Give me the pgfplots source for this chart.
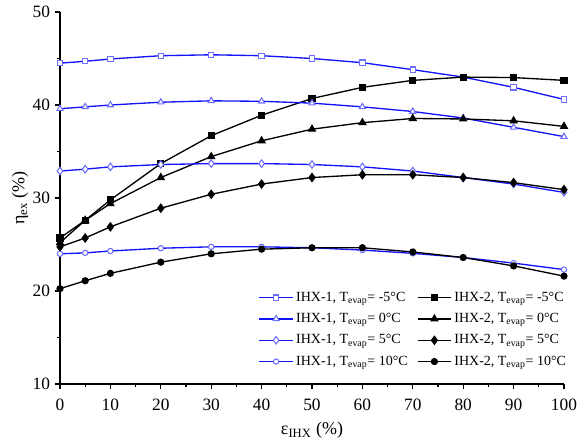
\documentclass[border=0pt]{standalone}
\usepackage{pgfplots}
\pgfplotsset{compat=1.18}
\usepackage{fontspec}
\setmainfont{Liberation Serif}
\definecolor{lblue}{RGB}{20,20,250}
\definecolor{mblue}{RGB}{110,110,255}
\begin{document}
\begin{tikzpicture}
\begin{axis}[
  scale only axis,
  width=378pt, height=279pt,
  at={(0pt,0pt)}, anchor=south west,
  xmin=0, xmax=100, ymin=10, ymax=50,
  axis x line=bottom, axis y line=left,
  axis line style={-, line width=1.1pt},
  xtick={0,10,...,100}, ytick={10,20,...,50},
  minor x tick num=1, minor y tick num=1,
  tick align=outside,
  major tick length=4pt, minor tick length=2.5pt,
  tick style={line width=0.9pt, black},
  /pgf/number format/assume math mode=true,
  ticklabel style={font=\fontsize{13}{15}\selectfont},
  xticklabel style={yshift=-4pt},
  every axis y label/.style={at={(axis description cs:0,0.5)}, xshift=-30pt, rotate=90, anchor=center},
  every axis x label/.style={at={(axis description cs:0.5,0)}, yshift=-35pt, anchor=center},
  ylabel={\fontsize{13.5}{15}\selectfont η\textsubscript{ex} (\%)},
  xlabel={\fontsize{13.5}{15}\selectfont ε\textsubscript{IHX} (\%)},
  legend columns=2,
  legend style={draw=none, fill=none, at={(axis cs:38.6,11.2)}, anchor=south west,
    font=\fontsize{10.5}{12}\selectfont, row sep=3.5pt,
    /tikz/every even column/.append style={column sep=5pt}},
  legend cell align=left,
  legend image code/.code={\draw[mark repeat=2,mark phase=2] plot coordinates {(0pt,0pt)(12.5pt,0pt)(25pt,0pt)};},
  ihxone/.style={color=lblue, line width=1pt, mark options={draw=mblue, fill=white, line width=0.8pt, solid}},
  ihxtwo/.style={color=black, line width=1pt, mark options={draw=black, fill=black, solid}},
]
% IHX-1, -5
\addplot[ihxone, mark=square*, mark size=2pt] coordinates {(0,44.5)(5,44.7)(10,44.95)(20,45.3)(30,45.4)(40,45.3)(50,45.0)(60,44.55)(70,43.8)(80,43.0)(90,41.9)(100,40.6)};
\addlegendentry{IHX-1, T\textsubscript{evap}= -5°C}
% IHX-2, -5
\addplot[ihxtwo, mark=square*, mark size=2.2pt] coordinates {(0,25.7)(5,27.6)(10,29.8)(20,33.7)(30,36.7)(40,38.9)(50,40.7)(60,41.9)(70,42.65)(80,43.0)(90,42.95)(100,42.65)};
\addlegendentry{IHX-2, T\textsubscript{evap}= -5°C}
% IHX-1, 0
\addplot[ihxone, mark=triangle*, mark size=2.6pt] coordinates {(0,39.6)(5,39.8)(10,40.0)(20,40.3)(30,40.45)(40,40.4)(50,40.2)(60,39.8)(70,39.3)(80,38.6)(90,37.6)(100,36.6)};
\addlegendentry{IHX-1, T\textsubscript{evap}= 0°C}
% IHX-2, 0
\addplot[ihxtwo, mark=triangle*, mark size=2.8pt] coordinates {(0,25.2)(5,27.6)(10,29.4)(20,32.2)(30,34.45)(40,36.15)(50,37.4)(60,38.1)(70,38.55)(80,38.5)(90,38.3)(100,37.7)};
\addlegendentry{IHX-2, T\textsubscript{evap}= 0°C}
% IHX-1, 5
\addplot[ihxone, mark=diamond*, mark size=2.8pt] coordinates {(0,32.9)(5,33.1)(10,33.35)(20,33.6)(30,33.7)(40,33.7)(50,33.6)(60,33.35)(70,32.9)(80,32.2)(90,31.5)(100,30.6)};
\addlegendentry{IHX-1, T\textsubscript{evap}= 5°C}
% IHX-2, 5
\addplot[ihxtwo, mark=diamond*, mark size=2.9pt] coordinates {(0,24.75)(5,25.7)(10,26.9)(20,28.9)(30,30.4)(40,31.5)(50,32.2)(60,32.5)(70,32.5)(80,32.2)(90,31.65)(100,30.9)};
\addlegendentry{IHX-2, T\textsubscript{evap}= 5°C}
% IHX-1, 10
\addplot[ihxone, mark=*, mark size=2pt] coordinates {(0,24.0)(5,24.1)(10,24.3)(20,24.6)(30,24.75)(40,24.75)(50,24.65)(60,24.4)(70,24.05)(80,23.6)(90,23.0)(100,22.3)};
\addlegendentry{IHX-1, T\textsubscript{evap}= 10°C}
% IHX-2, 10
\addplot[ihxtwo, mark=*, mark size=2.2pt] coordinates {(0,20.25)(5,21.1)(10,21.9)(20,23.1)(30,24.0)(40,24.5)(50,24.65)(60,24.65)(70,24.2)(80,23.6)(90,22.7)(100,21.6)};
\addlegendentry{IHX-2, T\textsubscript{evap}= 10°C}
\end{axis}
\pgfresetboundingbox
\useasboundingbox (-45pt,-45pt) rectangle (395.25pt,288pt);
\end{tikzpicture}
\end{document}
